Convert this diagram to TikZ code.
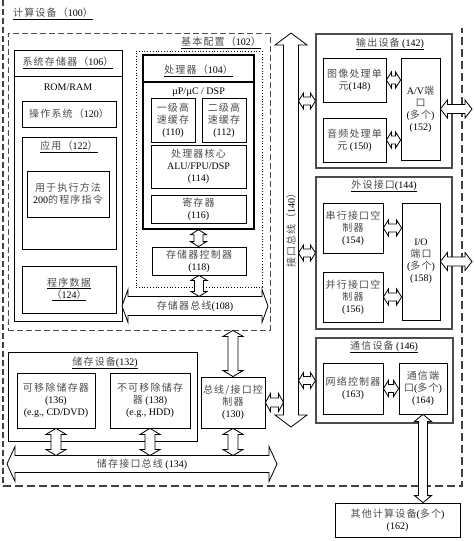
\documentclass[tikz,border=0pt]{standalone}
\usepackage{fontspec}
\setmainfont{Liberation Serif}
\newfontfamily\cjk{Noto Sans CJK SC}[LetterSpace=12]
\usetikzlibrary{calc}
\definecolor{zhcol}{gray}{0.3}
\newcommand\zh[1]{{\cjk\color{zhcol}#1}}
\newcommand\vdar[5]{\draw[barrow] let \p1=(#1), \p2=(#2) in (\x1,\y1) -- (\x1+#4,\y1-#5) -- (\x1+#3,\y1-#5) -- (\x1+#3,\y2+#5) -- (\x1+#4,\y2+#5) -- (\x1,\y2) -- (\x1-#4,\y2+#5) -- (\x1-#3,\y2+#5) -- (\x1-#3,\y1-#5) -- (\x1-#4,\y1-#5) -- cycle;}
\newcommand\hdar[5]{\draw[barrow] let \p1=(#1), \p2=(#2) in (\x1,\y1) -- (\x1+#5,\y1+#4) -- (\x1+#5,\y1+#3) -- (\x2-#5,\y1+#3) -- (\x2-#5,\y1+#4) -- (\x2,\y1) -- (\x2-#5,\y1-#4) -- (\x2-#5,\y1-#3) -- (\x1+#5,\y1-#3) -- (\x1+#5,\y1-#4) -- cycle;}
\begin{document}
\begin{tikzpicture}[x=1pt,y=-1pt,
  box/.style={draw, line width=0.8pt, align=center, inner sep=1pt, font=\fontsize{10}{12}\selectfont},
  gbox/.style={box, draw=black!70, line width=1.1pt},
  lbl/.style={inner sep=0pt, align=center, font=\fontsize{10}{12}\selectfont},
  barrow/.style={draw, fill=white, line width=0.8pt, line join=miter}]
\useasboundingbox (0,0) rectangle (474,541);
% outer device 100
\draw[line width=2.2pt, dash pattern=on 6pt off 3pt, black!75] (3,0) -- (3,486);
\draw[line width=1.1pt, dash pattern=on 8pt off 4pt, black!75] (3,486) -- (462,486) -- (462,28);
\node[lbl] (t100) at (53,14) {\underline{\zh{计算设备（}100\zh{）}}};
% basic configuration 102
\node[draw=black!70, line width=0.8pt, dash pattern=on 6pt off 3pt, minimum width=262pt, minimum height=297pt, inner sep=0pt] (b102) at (139,181.5) {};
\node[lbl] (t102) at (221,43) {\underline{\zh{基本配置（}102\zh{）}}};
% system memory 106
\node[box, line width=0.7pt, minimum width=108pt, minimum height=271pt] (b106) at (68,185.5) {};
\node[lbl] (t106) at (68,63) {\underline{\zh{系统存储器（}106\zh{）}}};
\draw[line width=0.7pt] (14,76) -- (122,76);
\node[lbl] (rom) at (68,87) {ROM/RAM};
\node[box, minimum width=94pt, minimum height=26pt] (b120) at (69,114) {\zh{操作系统（}120\zh{）}};
\node[box, minimum width=94pt, minimum height=112pt] (b122) at (69,193) {};
\node[lbl] (t122) at (69,147) {\underline{\zh{应用（}122\zh{）}}};
\node[box, minimum width=82pt, minimum height=46pt] (b200) at (68,194) {\zh{用于执行方法}\\200\zh{的程序指令}};
\node[box, minimum width=94pt, minimum height=47pt] (b124) at (69,289.5) {\underline{\zh{程序数据}}\\\underline{\zh{（}124\zh{）}}};
% processor
\node[draw, dotted, line width=0.8pt, minimum width=126pt, minimum height=236pt, inner sep=0pt] (bproc) at (199,169) {};
\node[box, line width=1.4pt, minimum width=111pt, minimum height=174pt] (b104) at (198.5,142) {};
\node[lbl] (t104) at (198.5,71) {\underline{\zh{处理器（}104\zh{）}}};
\draw[line width=1.4pt] (143,82) -- (254,82);
\node[lbl] (mp) at (198.5,92) {µP/µC / DSP};
\node[box, minimum width=44pt, minimum height=44pt] (b110) at (173,120) {\zh{一级高}\\\zh{速缓存}\\(110)};
\node[box, minimum width=44pt, minimum height=44pt] (b112) at (224,120) {\zh{二级高}\\\zh{速缓存}\\(112)};
\node[box, minimum width=95pt, minimum height=43pt] (b114) at (198.5,166.5) {\zh{处理器核心}\\ALU/FPU/DSP\\(114)};
\node[box, minimum width=95pt, minimum height=28pt] (b116) at (198.5,209) {\zh{寄存器}\\(116)};
\node[box, minimum width=94pt, minimum height=28pt] (b118) at (199,261) {\zh{存储器控制器}\\(118)};
% storage 132
\node[box, line width=0.7pt, minimum width=189pt, minimum height=89pt] (b132) at (102.5,396.5) {};
\node[lbl] (t132) at (105,363) {\underline{\zh{储存设备}(132)}};
\node[box, minimum width=78pt, minimum height=55pt] (b136) at (56,400.5) {\zh{可移除储存器}\\(136)\\(e.g., CD/DVD)};
\node[box, minimum width=80pt, minimum height=55pt] (b138) at (150,400.5) {\zh{不可移除储存}\\\zh{器} (138)\\(e.g., HDD)};
\node[box, minimum width=64pt, minimum height=51pt] (b130) at (233,402.5) {\zh{总线/接口控}\\\zh{制器}\\(130)};
% output devices 142
\node[gbox, minimum width=136pt, minimum height=134pt] (b142) at (384,101) {};
\node[lbl] (t142) at (390,44) {\underline{\zh{输出设备} (142)}};
\node[box, minimum width=63pt, minimum height=44pt] (b148) at (354.5,80) {\zh{图像处理单}\\\zh{元}(148)};
\node[box, minimum width=63pt, minimum height=44pt] (b150) at (354.5,140) {\zh{音频处理单}\\\zh{元} (150)};
\node[box, minimum width=39pt, minimum height=102pt] (b152) at (420.5,109) {A/V\zh{端}\\\zh{口}\\(\zh{多个})\\(152)};
% peripheral interfaces 144
\node[gbox, minimum width=136pt, minimum height=152pt] (b144) at (384,253) {};
\node[lbl] (t144) at (384,186) {\underline{\zh{外设接口}(144)}};
\node[box, minimum width=60pt, minimum height=50pt] (b154) at (353,228) {\zh{串行接口空}\\\zh{制器}\\(154)};
\node[box, minimum width=60pt, minimum height=50pt] (b156) at (353,297) {\zh{并行接口空}\\\zh{制器}\\(156)};
\node[box, minimum width=38pt, minimum height=117pt] (b158) at (421,261.5) {I/O\\\zh{端口}\\(\zh{多个})\\(158)};
% communication devices 146
\node[gbox, minimum width=137pt, minimum height=85pt] (b146) at (384.5,380.5) {};
\node[lbl] (t146) at (384,347) {\underline{\zh{通信设备} (146)}};
\node[box, minimum width=60pt, minimum height=51pt] (b163) at (353,388.5) {\zh{网络控制器}\\(163)};
\node[box, minimum width=48pt, minimum height=51pt] (b164) at (423,388.5) {\zh{通信端}\\\zh{口}(\zh{多个})\\(164)};
\node[box, minimum width=125pt, minimum height=34pt] (b162) at (397.5,520) {\zh{其他计算设备}(\zh{多个})\\(162)};
% bus coordinates
\coordinate (ibusT) at (291,33); \coordinate (ibusB) at (291,427);
\coordinate (ibusR) at (298.5,0); \coordinate (ibusL) at (283.5,0);
\coordinate (mbusL) at (122,306); \coordinate (mbusR) at (268,306); \coordinate (mbusT) at (0,296.5);
\coordinate (sbusL) at (7,464); \coordinate (sbusR) at (277,464); \coordinate (sbusT) at (0,455.5);
\coordinate (ext) at (472,0);
% buses
\vdar{ibusT}{ibusB}{7.5pt}{16pt}{12pt}
\hdar{mbusL}{mbusR}{9.5pt}{16.5pt}{6pt}
\hdar{sbusL}{sbusR}{8.5pt}{17.5pt}{8pt}
\node[lbl, rotate=90] (l140) at (291,228) {\zh{接口总线（}140\zh{）}};
\node[lbl] (l108) at (195,306.5) {\zh{存储器总线}(108)};
\node[lbl] (l134) at (142,464.5) {\zh{储存接口总线} (134)};
% small arrows
\vdar{b104.south}{b118.north}{4.5pt}{8pt}{5pt}
\vdar{b118.south}{mbusT -| b118.south}{4.5pt}{8pt}{5pt}
\vdar{b130.north |- b102.south}{b130.north}{5pt}{10pt}{6pt}
\hdar{b130.east}{ibusL |- b130.east}{4.5pt}{9pt}{5pt}
\vdar{b130.south}{sbusT -| b130.south}{5pt}{10pt}{6pt}
\vdar{b136.south}{sbusT -| b136.south}{5pt}{10pt}{6pt}
\vdar{b138.south}{sbusT -| b138.south}{5pt}{10pt}{6pt}
\hdar{ibusR |- b142.west}{b142.west}{4pt}{8pt}{5pt}
\hdar{ibusR |- b144.west}{b144.west}{4pt}{8pt}{5pt}
\hdar{ibusR |- b146.west}{b146.west}{4pt}{8pt}{5pt}
\hdar{b148.east}{b152.west |- b148.east}{4pt}{8pt}{5pt}
\hdar{b150.east}{b152.west |- b150.east}{4pt}{8pt}{5pt}
\hdar{b152.east}{ext |- b152.east}{4.5pt}{9pt}{7pt}
\hdar{b154.east}{b158.west |- b154.east}{4pt}{8pt}{5pt}
\hdar{b156.east}{b158.west |- b156.east}{4pt}{8pt}{5pt}
\hdar{b158.east}{ext |- b158.east}{4.5pt}{9pt}{7pt}
\hdar{b163.east}{b164.west |- b163.east}{4pt}{8pt}{5pt}
\vdar{b164.south}{b162.north -| b164.south}{4.5pt}{8.5pt}{7pt}
\end{tikzpicture}
\end{document}
